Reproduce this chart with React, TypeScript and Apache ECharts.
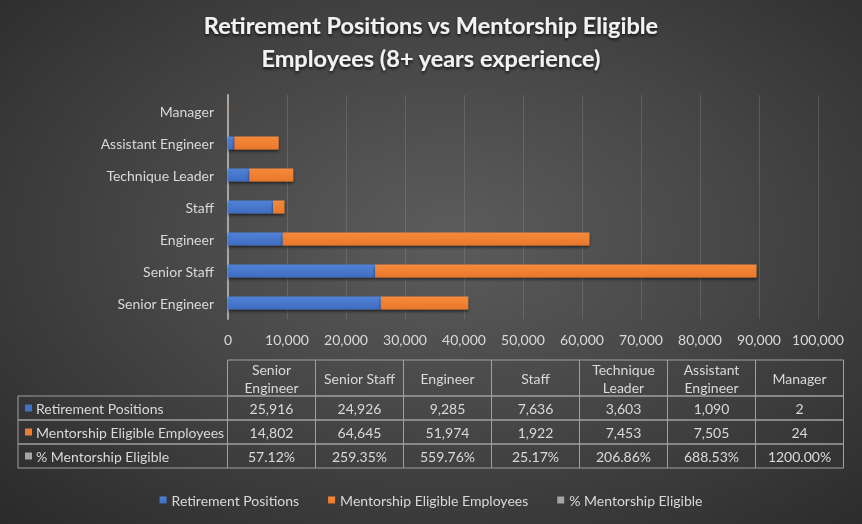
import { useEffect, useRef } from "react";
import * as echarts from "echarts";

// categories from bottom to top of the bar chart (same order as the data table)
const categories = [
  "Senior Engineer",
  "Senior Staff",
  "Engineer",
  "Staff",
  "Technique Leader",
  "Assistant Engineer",
  "Manager",
];
// table header labels (Excel wraps them)
const tableHeaders = [
  "Senior\nEngineer",
  "Senior Staff",
  "Engineer",
  "Staff",
  "Technique\nLeader",
  "Assistant\nEngineer",
  "Manager",
];
const retirement = [25916, 24926, 9285, 7636, 3603, 1090, 2];
const mentorship = [14802, 64645, 51974, 1922, 7453, 7505, 24];
const pctEligible = [57.12, 259.35, 559.76, 25.17, 206.86, 688.53, 1200.0];

const seriesNames = [
  "Retirement Positions",
  "Mentorship Eligible Employees",
  "% Mentorship Eligible",
];
const xTicks = [0, 10000, 20000, 30000, 40000, 50000, 60000, 70000, 80000, 90000, 100000];

const COLORS = ["#4472c4", "#ed7d31", "#a5a5a5"];
const TEXT = "#d9d9d9";
const FONT = "Lato, 'Open Sans', sans-serif";

function App() {
  const ref = useRef<HTMLDivElement>(null);

  useEffect(() => {
    if (!ref.current) return;
    const chart = echarts.init(ref.current, null, { renderer: "svg" });

    // data table layout
    const tLeft = 18;
    const colLeft = 227.5;
    const colW = 88;
    const headTop = 360;
    const headH = 36;
    const rowH = 24;
    const border = "#a0a0a0";

    const rows = [
      retirement.map((v) => v.toLocaleString("en-US")),
      mentorship.map((v) => v.toLocaleString("en-US")),
      pctEligible.map((v) => v.toFixed(2) + "%"),
    ];

    const elements: any[] = [];
    tableHeaders.forEach((h, i) => {
      const x = colLeft + i * colW;
      elements.push({
        type: "rect",
        shape: { x, y: headTop, width: colW, height: headH },
        style: { fill: "none", stroke: border, lineWidth: 1 },
        silent: true,
      });
      elements.push({
        type: "text",
        x: x + colW / 2,
        y: headTop + headH / 2,
        style: {
          text: h,
          fill: TEXT,
          font: `14px ${FONT}`,
          lineHeight: 18,
          align: "center",
          verticalAlign: "middle",
          textAlign: "center",
          textVerticalAlign: "middle",
        },
        silent: true,
      });
    });
    rows.forEach((row, r) => {
      const y = headTop + headH + r * rowH;
      elements.push({
        type: "rect",
        shape: { x: tLeft, y, width: colLeft - tLeft, height: rowH },
        style: { fill: "none", stroke: border, lineWidth: 1 },
        silent: true,
      });
      elements.push({
        type: "rect",
        shape: { x: tLeft + 7, y: y + rowH / 2 - 3.5, width: 7, height: 7 },
        style: { fill: COLORS[r] },
        silent: true,
      });
      elements.push({
        type: "text",
        x: tLeft + 18,
        y: y + rowH / 2,
        style: {
          text: seriesNames[r],
          fill: TEXT,
          font: `14px ${FONT}`,
          align: "left",
          verticalAlign: "middle",
          textAlign: "left",
          textVerticalAlign: "middle",
        },
        silent: true,
      });
      row.forEach((v, i) => {
        const x = colLeft + i * colW;
        elements.push({
          type: "rect",
          shape: { x, y, width: colW, height: rowH },
          style: { fill: "none", stroke: border, lineWidth: 1 },
          silent: true,
        });
        elements.push({
          type: "text",
          x: x + colW / 2,
          y: y + rowH / 2,
          style: {
            text: v,
            fill: TEXT,
            font: `14px ${FONT}`,
            align: "center",
            verticalAlign: "middle",
            textAlign: "center",
            textVerticalAlign: "middle",
          },
          silent: true,
        });
      });
    });

    const barShadow = {
      shadowColor: "rgba(0,0,0,0.55)",
      shadowBlur: 3,
      shadowOffsetY: 2,
    };

    chart.setOption({
      animation: false,
      backgroundColor: "transparent",
      title: {
        text: "Retirement Positions vs Mentorship Eligible\nEmployees (8+ years experience)",
        left: "center",
        top: 3,
        textStyle: {
          fontFamily: FONT,
          fontSize: 23.5,
          fontWeight: "bold",
          color: "#f2f2f2",
          lineHeight: 33,
          textShadowColor: "rgba(0,0,0,0.7)",
          textShadowBlur: 3,
          textShadowOffsetY: 2,
        },
      },
      legend: {
        bottom: 12,
        left: "center",
        icon: "rect",
        itemWidth: 7,
        itemHeight: 7,
        itemGap: 29,
        data: seriesNames,
        textStyle: { color: TEXT, fontFamily: FONT, fontSize: 14 },
      },
      grid: { left: 228, right: 44, top: 95, bottom: 205, containLabel: false },
      xAxis: {
        type: "value",
        min: xTicks[0],
        max: xTicks[xTicks.length - 1],
        interval: xTicks[1] - xTicks[0],
        axisLine: { show: false },
        axisTick: { show: false },
        axisLabel: {
          color: TEXT,
          fontFamily: FONT,
          fontSize: 14,
          margin: 13,
          formatter: (v: number) => v.toLocaleString("en-US"),
        },
        splitLine: { lineStyle: { color: "rgba(217,217,217,0.16)", width: 1 } },
      },
      yAxis: {
        type: "category",
        data: categories,
        axisLine: { lineStyle: { color: "#a6a6a6", width: 2 } },
        axisTick: { show: false },
        axisLabel: { color: TEXT, fontFamily: FONT, fontSize: 14, margin: 14 },
      },
      series: [
        {
          name: seriesNames[0],
          type: "bar",
          stack: "total",
          barWidth: 13,
          data: retirement,
          itemStyle: {
            color: new echarts.graphic.LinearGradient(0, 0, 0, 1, [
              { offset: 0, color: "#5082d8" },
              { offset: 1, color: "#3f6cc0" },
            ]),
            ...barShadow,
          },
        },
        {
          name: seriesNames[1],
          type: "bar",
          stack: "total",
          barWidth: 13,
          data: mentorship,
          itemStyle: {
            color: new echarts.graphic.LinearGradient(0, 0, 0, 1, [
              { offset: 0, color: "#f58a3c" },
              { offset: 1, color: "#e8772c" },
            ]),
            ...barShadow,
          },
        },
        {
          name: seriesNames[2],
          type: "bar",
          stack: "total",
          barWidth: 13,
          data: pctEligible.map((p) => p / 100),
          itemStyle: { color: COLORS[2] },
        },
      ],
      color: COLORS,
      graphic: { elements },
    });

    return () => {
      chart.dispose();
    };
  }, []);

  return (
    <div
      ref={ref}
      style={{
        position: "fixed",
        left: 0,
        top: 0,
        width: 862,
        height: 524,
        background:
          "radial-gradient(ellipse at 52% 45%, #5c5c5c 0%, #474747 45%, #2a2a2a 100%)",
      }}
    />
  );
}

export default App;
